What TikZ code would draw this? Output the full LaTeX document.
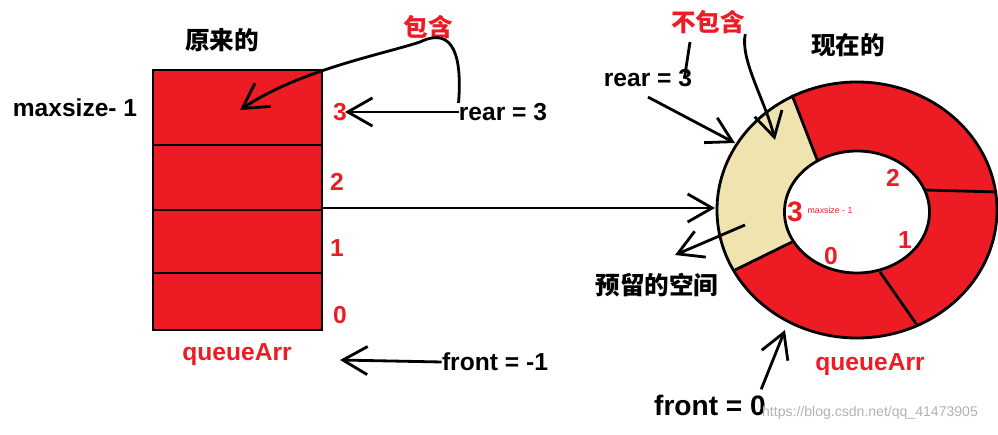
\documentclass[tikz,border=0pt]{standalone}
\usepackage{fontspec}
\setmainfont{Liberation Sans}
\newfontfamily\cjk{Noto Sans CJK SC}
\usetikzlibrary{arrows.meta}
\definecolor{pred}{HTML}{ED1C24}
\definecolor{pbeige}{HTML}{EFE4B0}
\begin{document}
\begin{tikzpicture}[x=0.02cm,y=-0.02cm,
  lbl/.style={font=\fontsize{14}{16}\selectfont\bfseries,inner sep=0pt},
  rlbl/.style={lbl,text=pred},
  clbl/.style={font=\cjk\fontsize{14}{16}\selectfont\bfseries,inner sep=0pt},
  cred/.style={clbl,text=pred},
  arr/.style={line width=1.6pt,-{Straight Barb[length=14pt,width=16pt,line width=1.6pt]}},
  ln/.style={line width=1.6pt}]
\useasboundingbox (0,0) rectangle (998,435);
% left array
\fill[pred] (153,70) rectangle (322,330);
\draw[ln] (153,70) rectangle (322,330);
\foreach \y in {145,210,273} \draw[ln] (153,\y) -- (322,\y);
% ring
\fill[pred,even odd rule] (857,210) ellipse [x radius=140,y radius=128] (857,212) ellipse [x radius=72.5,y radius=61];
\begin{scope}
\clip (818,162) -- (780,65) -- (650,65) -- (650,300) -- (680,297) -- (792,242) -- (857,210) -- cycle;
\fill[pbeige,even odd rule] (857,210) ellipse [x radius=140,y radius=128] (857,212) ellipse [x radius=72.5,y radius=61];
\end{scope}
\draw[ln] (857,210) ellipse [x radius=140,y radius=128];
\draw[ln] (857,212) ellipse [x radius=72.5,y radius=61];
\draw[ln] (792,95) -- (818,162);
\draw[ln] (735,270) -- (792,242);
\draw[ln] (880,272) -- (917,325);
\draw[ln] (925,190) -- (997,192);
% texts
\node[clbl] (orig) at (222,40) {原来的};
\node[cred] (bh) at (428,27) {包含};
\node[cred] (bbh) at (708,22) {不包含};
\node[clbl] (now) at (848,45) {现在的};
\node[lbl] (ms) at (75,108) {maxsize- 1};
\node[rlbl] (n3) at (340,112) {3};
\node[rlbl] (n2) at (337,182) {2};
\node[rlbl] (n1) at (337,248) {1};
\node[rlbl] (n0) at (340,315) {0};
\node[rlbl] (qa) at (237,355) {queueArr};
\node[lbl] (fm1) at (495,362) {front = -1};
\node[lbl] (r3a) at (503,112) {rear = 3};
\node[lbl] (r3b) at (648,78) {rear = 3};
\node[clbl] (yl) at (657,285) {预留的空间};
\node[lbl,font=\fontsize{16}{18}\selectfont\bfseries] (f0) at (710,405) {front = 0};
\node[rlbl] (qb) at (870,365) {queueArr};
\node[rlbl,font=\fontsize{16}{18}\selectfont\bfseries] (m3) at (795,212) {3};
\node[text=pred,font=\fontsize{5}{6}\selectfont,inner sep=0pt] (msr) at (830,210) {maxsize - 1};
\node[rlbl] (m2) at (893,178) {2};
\node[rlbl] (m1) at (905,240) {1};
\node[rlbl] (m0) at (831,256) {0};
\node[text=gray!60,font=\fontsize{8}{9}\selectfont,inner sep=0pt] (wm) at (870,413) {https://blog.csdn.net/qq\_41473905};
% coordinates
\coordinate (a1) at (240,110);
\coordinate (a2) at (345,112);
\coordinate (a3s) at (322,208);
\coordinate (a3) at (715,208);
\coordinate (a4) at (340,360);
\coordinate (a5) at (775,140);
\coordinate (a6) at (735,143);
\coordinate (a7) at (675,255);
\coordinate (a8) at (785,330);
% arrows
\draw[arr] (r3a.north west) .. controls (462,60) and (455,25) .. (420,42) .. controls (380,55) and (300,70) .. (a1);
\draw[arr] (r3a.west) -- (a2);
\draw[arr] (a3s) -- (a3);
\draw[arr] (fm1.west) -- (a4);
\draw[ln] (r3b.east) ++(-8,0) -- (690,42);
\draw[arr] (bbh.south east) .. controls (740,60) and (765,100) .. (a5);
\draw[arr] (r3b.south) ++(0,10) -- (a6);
\draw[arr] (745,225) -- (a7);
\draw[arr] (f0.north east) ++(-5,-5) -- (a8);
\end{tikzpicture}
\end{document}
